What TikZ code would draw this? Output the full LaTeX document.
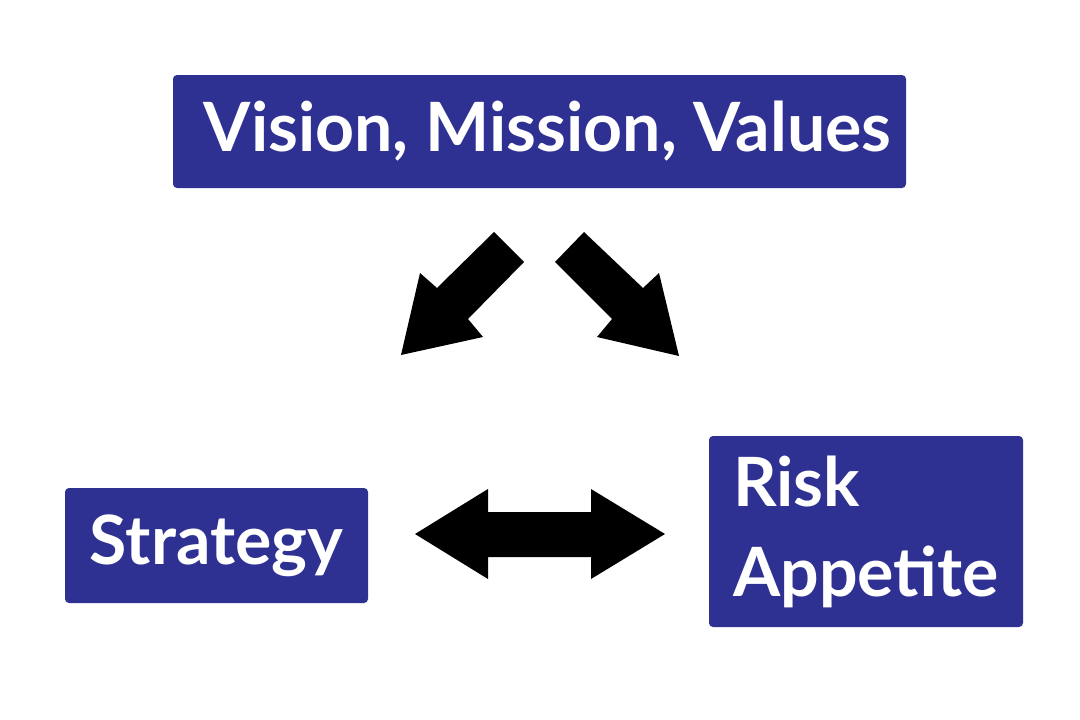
\documentclass[tikz,border=0pt]{standalone}
\usepackage{fontspec}
\setmainfont{Lato}
\usepackage{tikz}
\usetikzlibrary{calc}
\definecolor{boxblue}{HTML}{2E3192}

\begin{document}
\begin{tikzpicture}[x=1pt,y=-1pt]
  \tikzset{mybox/.style={fill=boxblue, rounded corners=4pt, text=white, inner sep=0pt, font=\fontsize{68}{90}\selectfont\bfseries}};
  \tikzset{myarrow/.style={fill=black, draw=none}};
  \useasboundingbox (0,0) rectangle (1080,720);

  \node[mybox, minimum width=733pt, minimum height=113pt] (vmv) at (539.5,131.5) {\hspace{16pt}Vision, Mission, Values};
  \node[mybox, minimum width=303pt, minimum height=115pt] (strat) at (216.5,545.5) {Strategy};
  \node[mybox, minimum width=314pt, minimum height=191pt, align=left] (risk) at (866,531.5) {Risk\\Appetite};

  % down-left arrow
  \fill[myarrow] (494,232) -- (524,262) -- (468,319) -- (483,337) -- (401,355) -- (420,273) -- (437,288) -- cycle;
  % down-right arrow
  \fill[myarrow] (584,232) -- (555,262) -- (612,319) -- (597,337) -- (679,356) -- (659,273) -- (643,288) -- cycle;
  % double arrow
  \fill[myarrow] (415,534) -- (488,489) -- (488,512) -- (591,512) -- (591,489) -- (665,534)
    -- (591,579) -- (591,557) -- (488,557) -- (488,579) -- cycle;
\end{tikzpicture}
\end{document}
